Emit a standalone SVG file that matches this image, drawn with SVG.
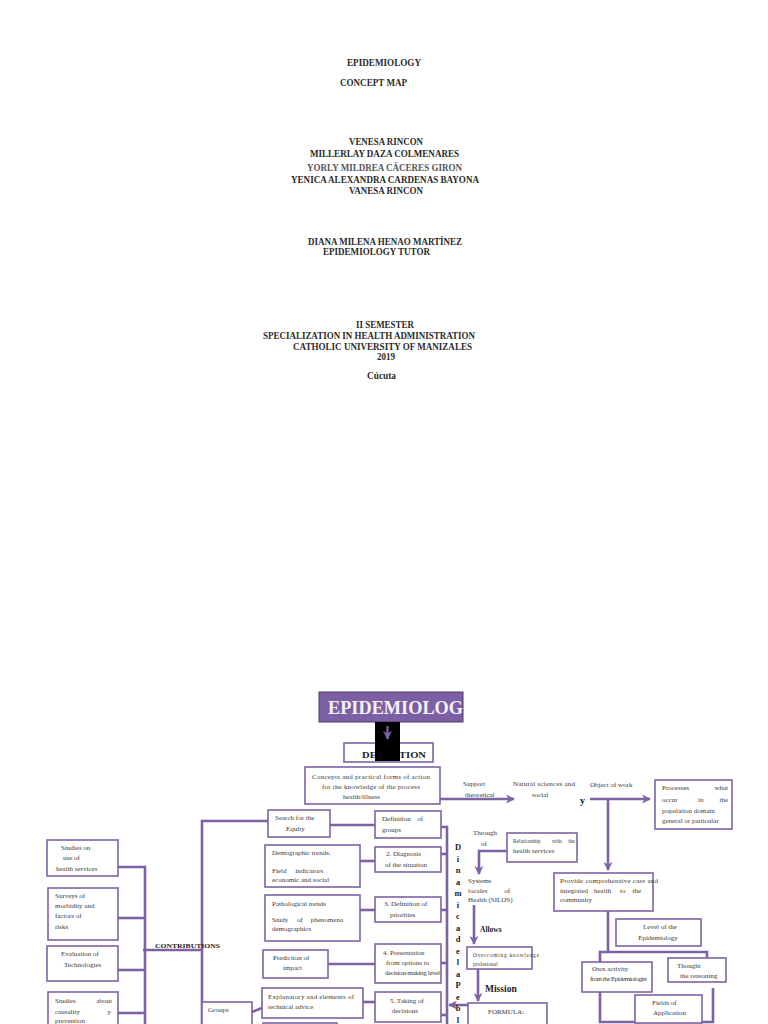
<svg xmlns="http://www.w3.org/2000/svg" width="768" height="1024" viewBox="0 0 768 1024">
<style>
.h{font-family:"Liberation Serif",serif;font-weight:bold;font-size:10px;fill:#2a2a2a}
.g{fill:#555}
.box{fill:#fff;stroke:#7e62a3;stroke-width:1.6}
.ln{fill:none;stroke:#7e62a3;stroke-width:2.6}
.t{font-family:"Liberation Serif",serif;font-size:7px;fill:#3a3a3a}
.s{font-size:5.5px}
.b{font-family:"Liberation Serif",serif;font-weight:bold;fill:#222}
</style>
<defs>
<marker id="ah" viewBox="0 0 10 10" refX="9" refY="5" markerWidth="9" markerHeight="9" markerUnits="userSpaceOnUse" orient="auto">
<path d="M0,0 L10,5 L0,10 L3,5 z" fill="#7e62a3"/>
</marker>
</defs>
<rect width="768" height="1024" fill="#fff"/>
<g id="title">
<text class="h" x="347" y="66" textLength="74" lengthAdjust="spacingAndGlyphs">EPIDEMIOLOGY</text>
<text class="h" x="340" y="86" textLength="67" lengthAdjust="spacingAndGlyphs">CONCEPT MAP</text>
<text class="h" x="349" y="145" textLength="74" lengthAdjust="spacingAndGlyphs">VENESA RINCON</text>
<text class="h" x="310" y="157" textLength="149" lengthAdjust="spacingAndGlyphs">MILLERLAY DAZA COLMENARES</text>
<text class="h g" x="307" y="171" textLength="155" lengthAdjust="spacingAndGlyphs">YORLY MILDREA CÁCERES GIRON</text>
<text class="h" x="291" y="183" textLength="188" lengthAdjust="spacingAndGlyphs">YENICA ALEXANDRA CARDENAS BAYONA</text>
<text class="h" x="349" y="194" textLength="74" lengthAdjust="spacingAndGlyphs">VANESA RINCON</text>
<text class="h" x="308" y="245" textLength="154" lengthAdjust="spacingAndGlyphs">DIANA MILENA HENAO MARTÍNEZ</text>
<text class="h" x="323" y="255" textLength="107" lengthAdjust="spacingAndGlyphs">EPIDEMIOLOGY TUTOR</text>
<text class="h" x="356" y="328" textLength="58" lengthAdjust="spacingAndGlyphs">II SEMESTER</text>
<text class="h" x="263" y="339" textLength="212" lengthAdjust="spacingAndGlyphs">SPECIALIZATION IN HEALTH ADMINISTRATION</text>
<text class="h" x="293" y="350" textLength="179" lengthAdjust="spacingAndGlyphs">CATHOLIC UNIVERSITY OF MANIZALES</text>
<text class="h" x="377" y="360" textLength="18" lengthAdjust="spacingAndGlyphs">2019</text>
<text class="h" x="367" y="379" textLength="29" lengthAdjust="spacingAndGlyphs">Cúcuta</text>
</g>
<g id="connectors">
<polyline class="ln" points="440,799 514,799" marker-end="url(#ah)"/>
<polyline class="ln" points="590,799 650,799" marker-end="url(#ah)"/>
<polyline class="ln" points="608,799 608,870" marker-end="url(#ah)"/>
<polyline class="ln" points="608,911 608,952"/>
<polyline class="ln" points="600,962 600,952 707,952 707,958"/>
<polyline class="ln" points="600,992 600,1022 713,1022 713,988"/>
<polyline class="ln" points="507,851 479,851 479,874" marker-end="url(#ah)"/>
<polyline class="ln" points="474,905 474,944" marker-end="url(#ah)"/>
<polyline class="ln" points="478,969 478,1001" marker-end="url(#ah)"/>
<polyline class="ln" points="468,1005 449,1005" marker-end="url(#ah)"/>
<polyline class="ln" points="441,827 447,827 447,1024"/>
<polyline class="ln" points="441,854 447,854"/>
<polyline class="ln" points="441,910 447,910"/>
<polyline class="ln" points="441,963 447,963"/>
<polyline class="ln" points="441,1015 447,1015"/>
<polyline class="ln" points="330,825 375,825"/>
<polyline class="ln" points="360,861 375,861"/>
<polyline class="ln" points="360,910 375,910"/>
<polyline class="ln" points="328,964 375,964"/>
<polyline class="ln" points="363,1002 375,1002"/>
<polyline class="ln" points="268,821 202,821 202,1024"/>
<polyline class="ln" points="143,950 202,950"/>
<polyline class="ln" points="252,1012 262,1008"/>
<polyline class="ln" points="118,867 145,867 145,1024"/>
<polyline class="ln" points="118,918 145,918"/>
<polyline class="ln" points="118,970 145,970"/>
<polyline class="ln" points="118,1013 145,1013"/>
</g>
<g id="epidemiology">
<rect x="319" y="692" width="144" height="30" fill="#7d5fa5" stroke="#4d3d68" stroke-width="1"/>
<text class="b" x="328" y="714" font-size="18" fill="#f4f1f8" style="fill:#f4f1f8" textLength="135" lengthAdjust="spacingAndGlyphs">EPIDEMIOLOG</text>
</g>
<g id="definition">
<rect class="box" x="344" y="743" width="89" height="19"/>
<text class="b" x="362" y="758" font-size="9" textLength="64" lengthAdjust="spacingAndGlyphs">DEFINITION</text>
<rect x="375" y="722" width="25" height="39" fill="#000"/>
<line x1="387.5" y1="726" x2="387.5" y2="739" stroke="#7e62a3" stroke-width="2.2" marker-end="url(#ah)"/>
</g>
<g id="concepts">
<rect class="box" x="305" y="767" width="135" height="37"/>
<text class="t" x="312" y="779" textLength="118">Concepts and practical forms of action</text>
<text class="t" x="322" y="789" textLength="98">for the knowledge of the process</text>
<text class="t" x="343" y="799">health/illness</text>
</g>
<g id="labels-top">
<text class="t" x="463" y="786">Support</text>
<text class="t" x="465" y="797">theoretical</text>
<text class="t" x="513" y="786" textLength="62">Natural sciences and</text>
<text class="t" x="532" y="797">social</text>
<text class="t" x="590" y="787">Object of work</text>
<text class="b" x="580" y="804" font-size="10">y</text>
</g>
<g id="processes">
<rect class="box" x="655" y="780" width="77" height="49"/>
<text class="t" x="662" y="790">Processes</text>
<text class="t" x="728" y="790" text-anchor="end">what</text>
<text class="t" x="662" y="802">occur</text>
<text class="t" x="698" y="802">in</text>
<text class="t" x="728" y="802" text-anchor="end">the</text>
<text class="t" x="662" y="813">population domain</text>
<text class="t" x="662" y="823">general or particular</text>
</g>
<g id="through">
<text class="t" x="473" y="835">Through</text>
<text class="t" x="481" y="846">of</text>
</g>
<g id="relationship">
<rect class="box" x="507" y="833" width="70" height="29"/>
<text class="t s" x="513" y="843">Relationship</text>
<text class="t s" x="552" y="843">with</text>
<text class="t s" x="575" y="843" text-anchor="end">the</text>
<text class="t" x="513" y="853">health services</text>
</g>
<g id="silos">
<text class="t" x="468" y="883">Systems</text>
<text class="t" x="468" y="893">locales</text>
<text class="t" x="510" y="893" text-anchor="end">of</text>
<text class="t" x="468" y="902">Health (SILOS)</text>
<text class="b" x="480" y="932" font-size="7.5">Allows</text>
</g>
<g id="overcoming">
<rect class="box" x="467" y="947" width="65" height="22"/>
<text class="t s" x="473" y="957" textLength="66">Overcoming knowledge</text>
<text class="t s" x="473" y="966">profesional</text>
<text class="b" x="485" y="992" font-size="9.5">Mission</text>
</g>
<g id="formula">
<rect class="box" x="468" y="1003" width="79" height="30"/>
<text class="t" x="488" y="1014">FORMULA:</text>
</g>
<g id="vertical-text" class="b" font-size="8.5" text-anchor="middle">
<text x="458" y="850">D</text>
<text x="458" y="861.5">i</text>
<text x="458" y="873">n</text>
<text x="458" y="884.5">a</text>
<text x="458" y="896">m</text>
<text x="458" y="907.5">i</text>
<text x="458" y="919">c</text>
<text x="458" y="930.5">a</text>
<text x="458" y="942">d</text>
<text x="458" y="953.5">e</text>
<text x="458" y="965">l</text>
<text x="458" y="976.5">a</text>
<text x="458" y="988">P</text>
<text x="458" y="999.5">e</text>
<text x="458" y="1011">b</text>
<text x="458" y="1022.5">l</text>
</g>
<g id="def-groups">
<rect class="box" x="375" y="811" width="66" height="27"/>
<text class="t" x="382" y="821">Definition</text>
<text class="t" x="423" y="821" text-anchor="end">of</text>
<text class="t" x="382" y="832">groups</text>
</g>
<g id="diagnosis">
<rect class="box" x="375" y="847" width="66" height="25"/>
<text class="t" x="386" y="856">2. Diagnosis</text>
<text class="t" x="385" y="867">of the situation</text>
</g>
<g id="priorities">
<rect class="box" x="375" y="897" width="66" height="25"/>
<text class="t" x="384" y="906">3. Definition of</text>
<text class="t" x="390" y="917">priorities</text>
</g>
<g id="presentation">
<rect class="box" x="375" y="944" width="66" height="39"/>
<text class="t" x="383" y="955">4. Presentation</text>
<text class="t" x="386" y="965">from options to</text>
<text class="t" x="385" y="975" font-size="5.2" textLength="55">decision-making level</text>
</g>
<g id="taking">
<rect class="box" x="375" y="992" width="66" height="30"/>
<text class="t" x="390" y="1003">5. Taking of</text>
<text class="t" x="392" y="1013">decisions</text>
</g>
<g id="equity">
<rect class="box" x="268" y="810" width="62" height="27"/>
<text class="t" x="275" y="820">Search for the</text>
<text class="t" x="286" y="831">Equity</text>
</g>
<g id="demographic">
<rect class="box" x="265" y="845" width="95" height="42"/>
<text class="t" x="272" y="855">Demographic trends.</text>
<text class="t" x="272" y="873">Field</text>
<text class="t" x="323" y="873" text-anchor="end">indicators</text>
<text class="t" x="272" y="882">economic and social</text>
</g>
<g id="pathological">
<rect class="box" x="265" y="895" width="95" height="46"/>
<text class="t" x="272" y="906">Pathological trends</text>
<text class="t" x="272" y="922">Study</text>
<text class="t" x="297" y="922">of</text>
<text class="t" x="343" y="922" text-anchor="end">phenomena</text>
<text class="t" x="272" y="931">demographics</text>
</g>
<g id="prediction">
<rect class="box" x="263" y="950" width="65" height="28"/>
<text class="t" x="273" y="960">Prediction of</text>
<text class="t" x="283" y="970">impact</text>
</g>
<g id="explanatory">
<rect class="box" x="262" y="988" width="101" height="30"/>
<text class="t" x="268" y="999" textLength="86">Explanatory and elements of</text>
<text class="t" x="268" y="1009">technical advice</text>
</g>
<g id="lower-box">
<rect class="box" x="263" y="1023" width="74" height="10"/>
</g>
<g id="groups">
<rect class="box" x="202" y="1002" width="50" height="30"/>
<text class="t" x="208" y="1012">Groups</text>
</g>
<g id="contributions">
<text class="b" x="155" y="948" font-size="7" textLength="65" lengthAdjust="spacingAndGlyphs">CONTRIBUTIONS</text>
</g>
<g id="studies-use">
<rect class="box" x="47" y="840" width="71" height="36"/>
<text class="t" x="61" y="850">Studies on</text>
<text class="t" x="63" y="860">use of</text>
<text class="t" x="56" y="871">health services</text>
</g>
<g id="surveys">
<rect class="box" x="48" y="888" width="70" height="52"/>
<text class="t" x="55" y="898">Surveys of</text>
<text class="t" x="55" y="908">morbidity and</text>
<text class="t" x="55" y="918">factors of</text>
<text class="t" x="55" y="929">risks</text>
</g>
<g id="evaluation">
<rect class="box" x="47" y="946" width="71" height="35"/>
<text class="t" x="61" y="956">Evaluation of</text>
<text class="t" x="64" y="967">Technologies</text>
</g>
<g id="causality">
<rect class="box" x="48" y="992" width="70" height="40"/>
<text class="t" x="55" y="1003">Studies</text>
<text class="t" x="112" y="1003" text-anchor="end">about</text>
<text class="t" x="55" y="1014">causality</text>
<text class="t" x="111" y="1014" text-anchor="end">y</text>
<text class="t" x="55" y="1023">prevention</text>
</g>
<g id="provide">
<rect class="box" x="554" y="873" width="99" height="38"/>
<text class="t" x="560" y="883" textLength="98">Provide comprehensive care and</text>
<text class="t" x="560" y="893">integrated</text>
<text class="t" x="594" y="893">health</text>
<text class="t" x="620" y="893">to</text>
<text class="t" x="641" y="893" text-anchor="end">the</text>
<text class="t" x="560" y="902">community</text>
</g>
<g id="level">
<rect class="box" x="616" y="919" width="85" height="27"/>
<text class="t" x="660" y="929" text-anchor="middle">Level of the</text>
<text class="t" x="658" y="940" text-anchor="middle">Epidemiology</text>
</g>
<g id="own-activity">
<rect class="box" x="582" y="962" width="70" height="30"/>
<text class="t" x="592" y="971">Own activity</text>
<text class="t" x="590" y="981" font-size="5" textLength="57">from the Epidemiologist</text>
</g>
<g id="thought">
<rect class="box" x="668" y="958" width="58" height="24"/>
<text class="t" x="677" y="968">Thought</text>
<text class="t" x="680" y="978">the reasoning</text>
</g>
<g id="fields">
<rect class="box" x="635" y="995" width="67" height="28"/>
<text class="t" x="652" y="1005">Fields of</text>
<text class="t" x="653" y="1015">Application</text>
</g>
</svg>
